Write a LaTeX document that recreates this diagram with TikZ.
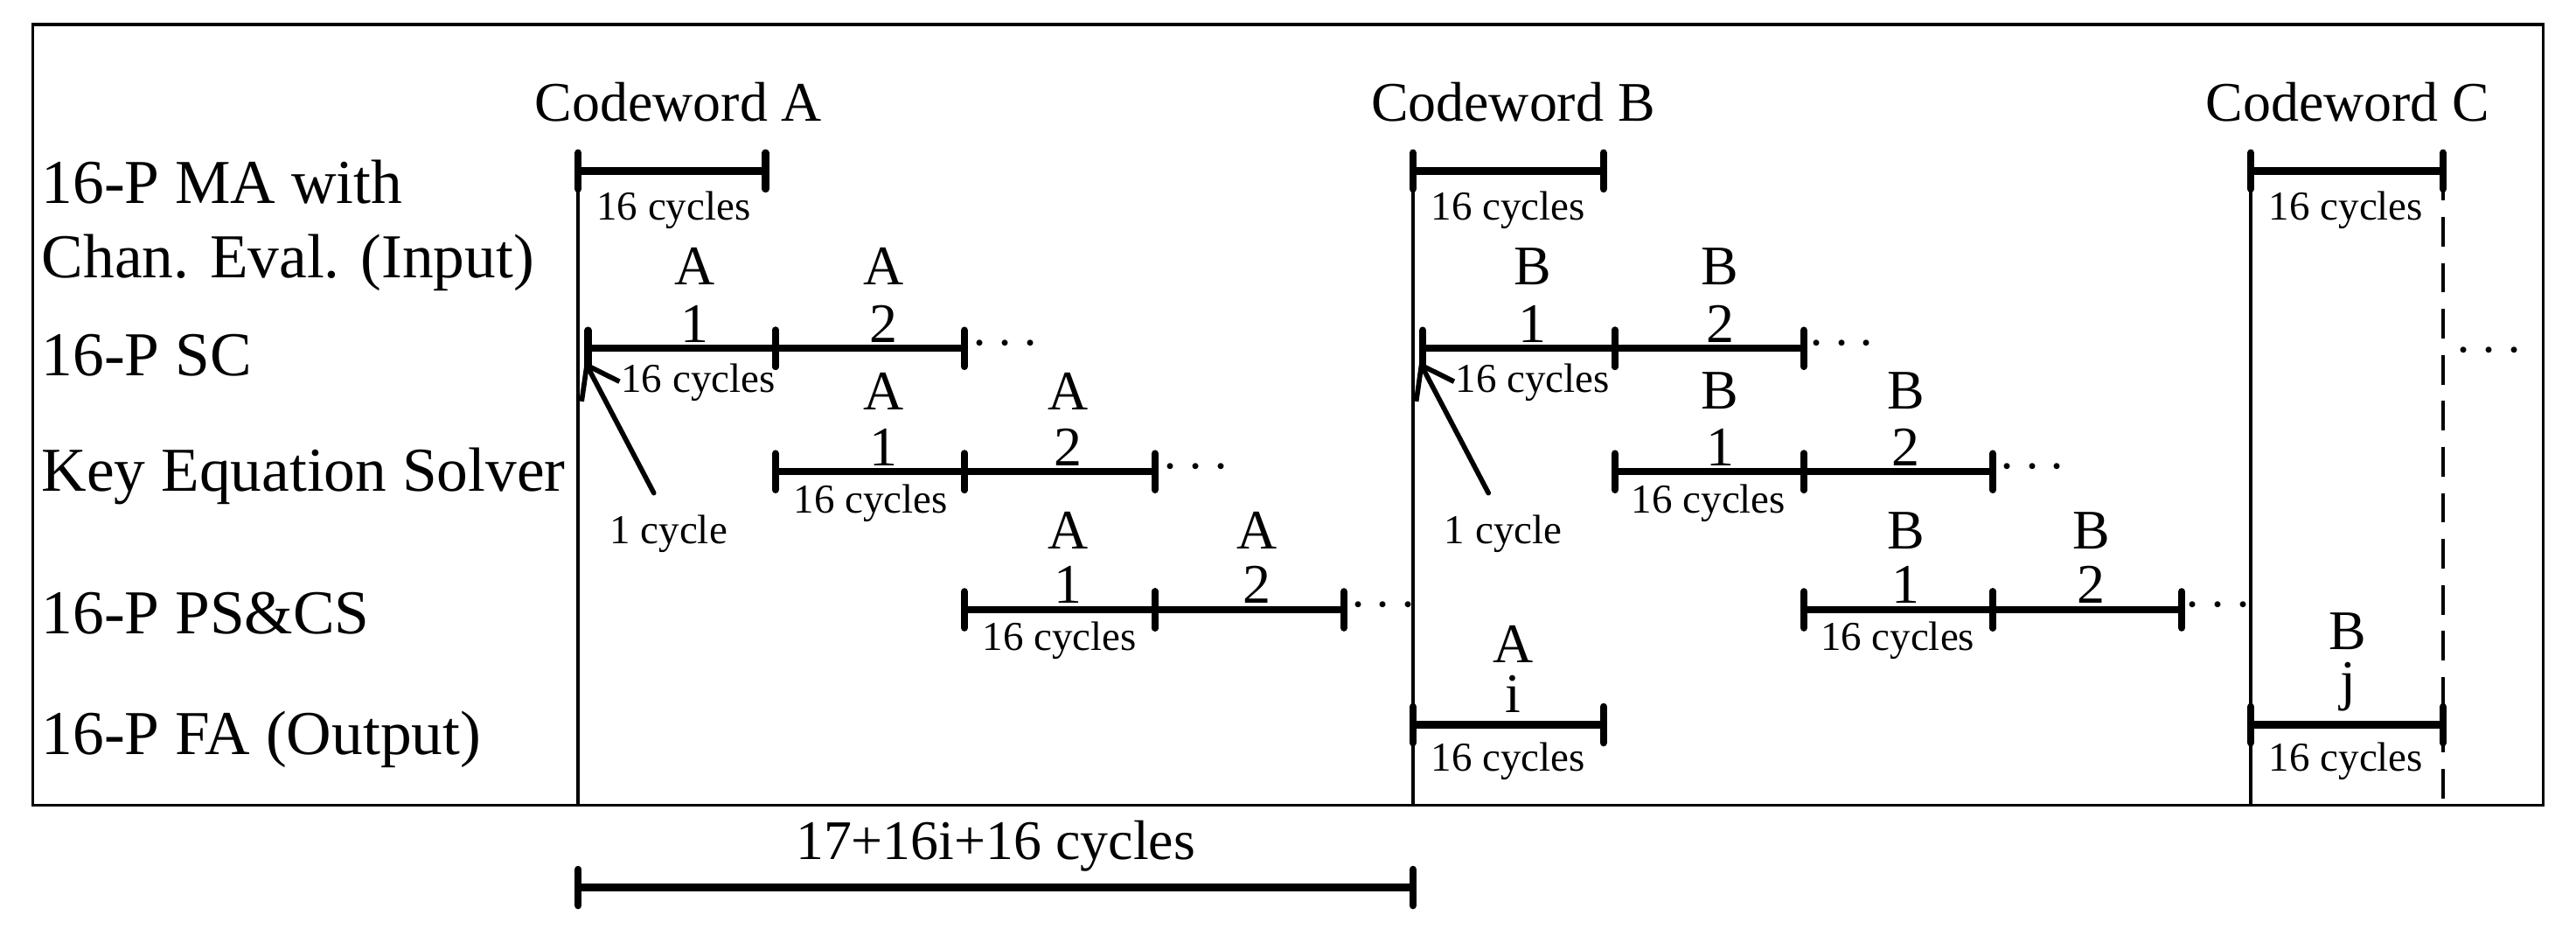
\documentclass[tikz,border=0pt]{standalone}
\usepackage{fontspec}
\setmainfont{Liberation Serif}
\usetikzlibrary{arrows.meta}
\begin{document}
\begin{tikzpicture}[x=0.5pt,y=-0.5pt,
  lab/.style={anchor=west,font=\fontsize{19}{21}\selectfont,inner sep=0},
  big/.style={font=\fontsize{17}{19}\selectfont,inner sep=0},
  cyc/.style={font=\fontsize{12.5}{14}\selectfont,inner sep=0},
  bar/.style={line width=2.2pt},
  tick/.style={line width=2.2pt,line cap=round},
  frame/.style={line width=1pt}]
\useasboundingbox (0,0) rectangle (1568,565);
\draw[frame] (20,15) rectangle (1548,490);
\draw[frame] (352,92) -- (352,490);
\draw[frame] (860,92) -- (860,490);
\draw[frame] (1370,92) -- (1370,490);
\draw[frame,dashed,dash pattern=on 9pt off 5pt] (1487,104) -- (1487,490);
% row labels
\node[lab] (l1) at (25,111) {16-P MA with};
\node[lab] (l2) at (25,160) {Chan. Eval. (Input)};
\node[lab] (l3) at (25,216) {16-P SC};
\node[lab] (l4) at (25,290) {Key Equation Solver};
\node[lab] (l5) at (25,373) {16-P PS\&CS};
\node[lab] (l6) at (25,450) {16-P FA (Output)};
% codewords
\node[big] (cA) at (413,62) {Codeword A};
\node[big] (cB) at (921,62) {Codeword B};
\node[big] (cC) at (1429,62) {Codeword C};
\newcommand{\seg}[3]{% x1 x2 y
  \draw[bar] (#1,#3) -- (#2,#3);
  \draw[tick] (#1,#3-11) -- (#1,#3+11);
  \draw[tick] (#2,#3-11) -- (#2,#3+11);}
% MA row
\seg{352}{466}{104}\node[cyc] (m1) at (410,128) {16 cycles};
\seg{860}{976}{104}\node[cyc] (m2) at (918,128) {16 cycles};
\seg{1370}{1487}{104}\node[cyc] (m3) at (1428,128) {16 cycles};
% SC row
\seg{358}{472}{212}\seg{472}{587}{212}
\node[big] at (423,162) {A};\node[big] at (423,197) {1};
\node[big] at (538,162) {A};\node[big] at (538,197) {2};
\node[cyc] at (425,233) {16 cycles};
\node[big] at (612,210) {$\cdots$};
\seg{866}{983}{212}\seg{983}{1098}{212}
\node[big] at (933,162) {B};\node[big] at (933,197) {1};
\node[big] at (1047,162) {B};\node[big] at (1047,197) {2};
\node[cyc] at (933,233) {16 cycles};
\node[big] at (1121,210) {$\cdots$};
\node[big] at (1515,214) {$\cdots$};
% KES row
\seg{472}{587}{287}\seg{587}{703}{287}
\node[big] at (538,238) {A};\node[big] at (538,272) {1};
\node[big] at (650,238) {A};\node[big] at (650,272) {2};
\node[cyc] at (530,306) {16 cycles};
\node[big] at (728,285) {$\cdots$};
\seg{983}{1098}{287}\seg{1098}{1213}{287}
\node[big] at (1047,238) {B};\node[big] at (1047,272) {1};
\node[big] at (1160,238) {B};\node[big] at (1160,272) {2};
\node[cyc] at (1040,306) {16 cycles};
\node[big] at (1237,285) {$\cdots$};
% PS&CS row
\seg{587}{703}{371}\seg{703}{818}{371}
\node[big] at (650,323) {A};\node[big] at (650,356) {1};
\node[big] at (765,323) {A};\node[big] at (765,356) {2};
\node[cyc] at (645,390) {16 cycles};
\node[big] at (842,369) {$\cdots$};
\seg{1098}{1213}{371}\seg{1213}{1328}{371}
\node[big] at (1160,323) {B};\node[big] at (1160,356) {1};
\node[big] at (1273,323) {B};\node[big] at (1273,356) {2};
\node[cyc] at (1155,390) {16 cycles};
\node[big] at (1350,369) {$\cdots$};
% FA row
\seg{860}{976}{441}
\node[big] at (921,392) {A};\node[big] at (921,422) {i};
\node[cyc] at (918,463) {16 cycles};
\seg{1370}{1487}{441}
\node[big] at (1429,384) {B};\node[big] at (1429,418) {j};
\node[cyc] at (1428,463) {16 cycles};
% 1-cycle arrows
\coordinate (a1s) at (398,300); \coordinate (a1e) at (356,220);
\draw[line width=1.5pt,line cap=round,-{Straight Barb[length=9pt,width=13pt]}] (a1s) -- (a1e);
\node[cyc] (o1) at (407,325) {1 cycle};
\coordinate (a2s) at (906,300); \coordinate (a2e) at (864,220);
\draw[line width=1.5pt,line cap=round,-{Straight Barb[length=9pt,width=13pt]}] (a2s) -- (a2e);
\node[cyc] (o2) at (915,325) {1 cycle};
% bottom
\seg{352}{860}{540}
\node[big] (tot) at (606,515) {17+16i+16 cycles};
\end{tikzpicture}
\end{document}
